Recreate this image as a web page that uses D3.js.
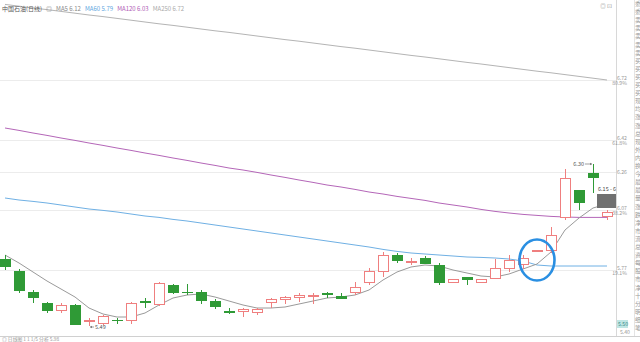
<!DOCTYPE html>
<html>
<head>
<meta charset="utf-8">
<script src="https://cdn.jsdelivr.net/npm/d3@7/dist/d3.min.js"></script>
<style>
  body { margin: 0; background: #fff; }
  svg { display: block; font-family: "Noto Sans CJK SC", "Noto Sans", sans-serif; }
</style>
</head>
<body>
<svg id="chart" width="640" height="342"></svg>
<script>
// DATA
// ========================================================================
var open_prices  = [5.825,5.765,5.66,5.605,5.565,5.595,5.51,5.50,5.522,5.515,5.615,5.595,5.695,5.662,5.66,5.615,5.565,5.56,5.555,5.605,5.62,5.63,5.635,5.655,5.64,5.655,5.705,5.76,5.845,5.805,5.83,5.795,5.705,5.735,5.705,5.725,5.775,5.795,5.86,5.865,6.03,6.17,6.255,6.035];
var close_prices = [5.785,5.665,5.63,5.565,5.595,5.495,5.52,5.54,5.518,5.605,5.605,5.705,5.655,5.658,5.615,5.585,5.555,5.575,5.575,5.625,5.635,5.645,5.645,5.645,5.625,5.685,5.765,5.845,5.815,5.815,5.80,5.705,5.725,5.72,5.725,5.78,5.82,5.83,5.87,5.945,6.23,6.105,6.23,6.06];
var high_prices  = [5.845,5.775,5.67,5.61,5.605,5.60,5.53,5.545,5.53,5.61,5.63,5.71,5.70,5.70,5.67,5.625,5.58,5.58,5.58,5.63,5.64,5.655,5.655,5.66,5.655,5.71,5.78,5.86,5.855,5.83,5.84,5.805,5.725,5.735,5.725,5.825,5.845,5.845,5.87,5.985,6.275,6.17,6.30,6.07];
var low_prices   = [5.77,5.655,5.605,5.555,5.555,5.495,5.49,5.495,5.50,5.50,5.58,5.59,5.65,5.645,5.60,5.575,5.55,5.535,5.545,5.58,5.60,5.61,5.60,5.63,5.625,5.645,5.695,5.735,5.805,5.795,5.80,5.695,5.705,5.695,5.705,5.725,5.76,5.775,5.86,5.855,6.02,6.07,6.155,6.02];

var ma5   = [5.845,5.805,5.76,5.715,5.675,5.635,5.58,5.55,5.535,5.535,5.555,5.595,5.63,5.645,5.65,5.635,5.615,5.595,5.58,5.58,5.585,5.60,5.615,5.63,5.635,5.645,5.67,5.72,5.76,5.785,5.795,5.79,5.77,5.755,5.74,5.735,5.75,5.775,5.80,5.86,5.97,6.03,6.08,6.10];
var ma60  = [6.13,6.12,6.113,6.105,6.095,6.085,6.075,6.068,6.06,6.05,6.04,6.033,6.023,6.015,6.005,5.995,5.985,5.975,5.965,5.955,5.945,5.935,5.925,5.915,5.905,5.895,5.885,5.873,5.863,5.855,5.85,5.845,5.84,5.835,5.833,5.83,5.825,5.815,5.795,5.79,5.79,5.79,5.79,5.79];
var ma120 = [6.48,6.468,6.455,6.443,6.43,6.418,6.405,6.393,6.38,6.368,6.355,6.343,6.33,6.318,6.305,6.293,6.28,6.27,6.258,6.245,6.233,6.22,6.208,6.195,6.185,6.173,6.16,6.15,6.138,6.128,6.118,6.105,6.095,6.085,6.073,6.063,6.055,6.048,6.043,6.038,6.035,6.033,6.033,6.033];
var ma250 = [7.098,7.089,7.08,7.072,7.063,7.054,7.045,7.037,7.028,7.019,7.01,7.001,6.993,6.984,6.975,6.966,6.958,6.949,6.94,6.931,6.922,6.914,6.905,6.896,6.887,6.879,6.87,6.861,6.852,6.843,6.835,6.826,6.817,6.808,6.8,6.791,6.782,6.773,6.764,6.756,6.747,6.738,6.729,6.72];

var axis_prices   = [6.72, 6.42, 6.26, 6.07, 5.77];
var axis_percents = ["80.9%", "61.8%", "", "38.2%", "19.1%"];
var cursor_price = 5.50;
var bottom_price = 5.40;

var legend_items = [
  {text: "中国石油(日线)", color: "#555"},
  {text: "◎", color: "#888"},
  {text: "MA5 6.12", color: "#888"},
  {text: "MA60 5.79", color: "#5ea6e0"},
  {text: "MA120 6.03", color: "#b05cb5"},
  {text: "MA250 6.72", color: "#aaa"}
];

var high_mark = {index: 42, label: "6.30"};
var low_mark  = {index: 6, label: "5.49"};
var range_box = {index: 42, top: 6.15, bottom: 6.08, label: "6.15 - 6.08"};
var circle_mark = {index: 38, price: 5.82};

var side_chars = ["委","委","卖","卖","卖","卖","卖","买","买","买","买","买","现","均","涨","涨","总","现","外","内","换","今","最","最","量","涨","跌","净","市","流","总","资","每","股","市","净","十","分","明","细","笔"];
// ========================================================================

var PLOT_RIGHT = 616;
var UP_COLOR = "#ef7f7f";
var DOWN_COLOR = "#2f9a36";

var svg = d3.select("#chart");
var idx = d3.range(open_prices.length);

var x = d3.scaleBand().domain(idx).range([-2, -2 + 14 * idx.length]).padding(0);
var cx = function(i) { return x(i) + x.bandwidth() / 2; };
var y = d3.scaleLinear().domain([5.455, 7.12]).range([333, 0]).clamp(true);

svg.append("defs").append("clipPath").attr("id", "plot_clip")
  .append("rect").attr("x", 0).attr("y", 0).attr("width", PLOT_RIGHT).attr("height", 336);

// grid lines
svg.append("g")
  .attr("transform", "translate(" + PLOT_RIGHT + ",0)")
  .call(d3.axisLeft(y).tickValues(axis_prices).tickSize(PLOT_RIGHT).tickFormat(""))
  .call(function(g) { g.select(".domain").remove(); })
  .selectAll("line").attr("stroke", "#ececec").attr("stroke-width", 1).attr("shape-rendering", "crispEdges");

// frame lines
svg.append("line").attr("x1", PLOT_RIGHT + 0.5).attr("x2", PLOT_RIGHT + 0.5).attr("y1", 0).attr("y2", 336)
  .attr("stroke", "#d8d8d8");
svg.append("line").attr("x1", 634.5).attr("x2", 634.5).attr("y1", 0).attr("y2", 336)
  .attr("stroke", "#e4e4e4");
svg.append("line").attr("x1", 0).attr("x2", 640).attr("y1", 336.5).attr("y2", 336.5)
  .attr("stroke", "#d0d0d0");

var plot = svg.append("g").attr("clip-path", "url(#plot_clip)");

// moving averages
function drawLine(values, color) {
  plot.append("path")
    .datum(values)
    .attr("fill", "none")
    .attr("stroke", color)
    .attr("stroke-width", 1)
    .attr("d", d3.line().x(function(d, i) { return cx(i); }).y(function(d) { return y(d); }));
}
drawLine(ma250, "#b4b4b4");
drawLine(ma120, "#b466b8");
drawLine(ma60, "#6fb0e4");
drawLine(ma5, "#9a9a9a");

// candles
var bodyW = 10;
var candles = plot.selectAll(".candle").data(idx).enter().append("g").attr("class", "candle");

candles.each(function(i) {
  var g = d3.select(this);
  var up = close_prices[i] > open_prices[i];
  var color = up ? UP_COLOR : DOWN_COLOR;
  var c = Math.round(cx(i)) + 0.5;
  var top = Math.round(y(Math.max(open_prices[i], close_prices[i])));
  var bot = Math.round(y(Math.min(open_prices[i], close_prices[i])));
  if (bot - top < 1) bot = top + 1;
  var hi = y(high_prices[i]), lo = y(low_prices[i]);
  if (up) {
    g.append("line").attr("x1", c).attr("x2", c).attr("y1", hi).attr("y2", top).attr("stroke", color);
    g.append("line").attr("x1", c).attr("x2", c).attr("y1", bot).attr("y2", lo).attr("stroke", color);
    g.append("rect").attr("x", c - bodyW / 2).attr("y", top + 0.5)
      .attr("width", bodyW).attr("height", Math.max(1, bot - top - 1))
      .attr("fill", "#fff").attr("stroke", color);
  } else {
    g.append("line").attr("x1", c).attr("x2", c).attr("y1", hi).attr("y2", lo).attr("stroke", color);
    g.append("rect").attr("x", c - bodyW / 2 - 0.5).attr("y", top)
      .attr("width", bodyW + 1).attr("height", bot - top)
      .attr("fill", color);
  }
});

// range box
plot.append("rect")
  .attr("x", cx(range_box.index) + 4)
  .attr("y", y(range_box.top))
  .attr("width", PLOT_RIGHT - cx(range_box.index) - 4)
  .attr("height", y(range_box.bottom) - y(range_box.top))
  .attr("fill", "#707070");
plot.append("text")
  .attr("x", cx(range_box.index) + 5)
  .attr("y", y(range_box.top) - 3)
  .attr("font-size", 5.5).attr("fill", "#444")
  .text(range_box.label);

// high / low markers
var hx = cx(high_mark.index), hy = y(high_prices[high_mark.index]);
plot.append("line").attr("x1", hx - 8).attr("x2", hx - 1).attr("y1", hy).attr("y2", hy).attr("stroke", "#777").attr("stroke-width", 0.7);
plot.append("path").attr("d", "M" + (hx - 1) + "," + hy + "l-2,-1.3v2.6z").attr("fill", "#777");
plot.append("text").attr("x", hx - 9).attr("y", hy + 2).attr("text-anchor", "end")
  .attr("font-size", 5.5).attr("fill", "#555").text(high_mark.label);

var lx = cx(low_mark.index), ly = y(low_prices[low_mark.index]) + 1;
plot.append("line").attr("x1", lx + 1).attr("x2", lx + 5).attr("y1", ly).attr("y2", ly).attr("stroke", "#777").attr("stroke-width", 0.7);
plot.append("path").attr("d", "M" + (lx + 1) + "," + ly + "l2,-1.3v2.6z").attr("fill", "#777");
plot.append("text").attr("x", lx + 6).attr("y", ly + 2)
  .attr("font-size", 5.5).attr("fill", "#555").text(low_mark.label);

// highlight circle
svg.append("ellipse")
  .attr("cx", cx(circle_mark.index))
  .attr("cy", y(circle_mark.price))
  .attr("rx", 17.5).attr("ry", 20.5)
  .attr("fill", "none").attr("stroke", "#2a8fe2").attr("stroke-width", 2.6);

// right axis labels
var axisG = svg.append("g").attr("transform", "translate(" + (PLOT_RIGHT + 11) + ",0)");
axis_prices.forEach(function(p, k) {
  var two = axis_percents[k] !== "";
  axisG.append("text").attr("x", 0).attr("y", y(p) + (two ? -0.5 : 2))
    .attr("text-anchor", "end").attr("font-size", 5.2).attr("fill", "#999")
    .text(p.toFixed(2));
  if (two) {
    axisG.append("text").attr("x", 0).attr("y", y(p) + 5)
      .attr("text-anchor", "end").attr("font-size", 5.2).attr("fill", "#999")
      .text(axis_percents[k]);
  }
});
svg.append("rect").attr("x", PLOT_RIGHT + 1).attr("y", y(cursor_price) - 4)
  .attr("width", 11).attr("height", 8).attr("fill", "#bfe6e4");
svg.append("text").attr("x", PLOT_RIGHT + 2).attr("y", y(cursor_price) + 2)
  .attr("font-size", 5.2).attr("fill", "#3a8a88").text(cursor_price.toFixed(2));
svg.append("text").attr("x", PLOT_RIGHT + 14).attr("y", y(bottom_price) + 1)
  .attr("text-anchor", "end").attr("font-size", 5.2).attr("fill", "#999").text(bottom_price.toFixed(2));

// legend
var lgX = 2;
legend_items.forEach(function(it) {
  var t = svg.append("text").attr("x", lgX).attr("y", 11)
    .attr("font-size", 6).attr("fill", it.color).text(it.text);
  lgX += t.node().getComputedTextLength() + 4;
});

// top-right icons
svg.append("text").attr("x", 612).attr("y", 8).attr("text-anchor", "end")
  .attr("font-size", 5.5).attr("fill", "#999").text("◎ ⊡");

// bottom status
svg.append("text").attr("x", 2).attr("y", 341)
  .attr("font-size", 4.8).attr("fill", "#999").text("◎ 日线图 1 1 1/5  分析  5.98");

// right side strip
svg.selectAll(".side").data(side_chars).enter().append("text")
  .attr("class", "side")
  .attr("x", 635).attr("y", function(d, i) { return 6 + i * 8.1; })
  .attr("font-size", 6).attr("fill", "#9a9a9a").text(function(d) { return d; });
</script>
</body>
</html>
